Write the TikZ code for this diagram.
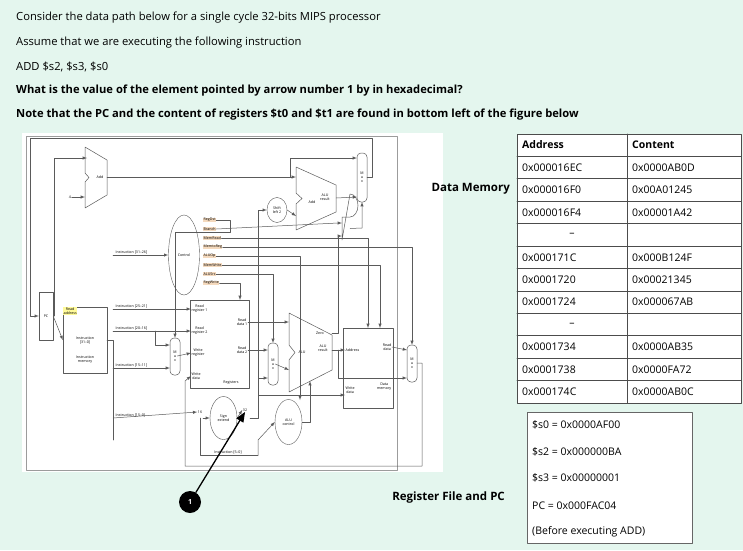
\documentclass[tikz,border=0pt]{standalone}
\usepackage{fontspec}
\setmainfont{Open Sans}
\usetikzlibrary{arrows,positioning,shapes.geometric}
\definecolor{mint}{RGB}{228,246,238}
\definecolor{wire}{RGB}{90,90,90}
\definecolor{sig}{RGB}{240,200,160}
\tikzset{
  box/.style={draw=wire,fill=white,inner sep=0pt},
  oval/.style={draw=wire,ellipse,fill=white,inner sep=0pt,font=\fontsize{3.6}{4}\selectfont,align=center},
  tiny/.style={font=\fontsize{3.6}{4}\selectfont,inner sep=0.5pt,align=center},
  w/.style={draw=wire,line width=0.5pt},
  cell/.style={font=\fontsize{10.5}{12}\selectfont,anchor=west,inner sep=0pt},
  txt/.style={font=\fontsize{11.2}{13}\selectfont,anchor=west,inner sep=0pt}
}
\begin{document}
\begin{tikzpicture}[x=1pt,y=-1pt,line cap=round,line join=round,>=latex]
\useasboundingbox (0,0) rectangle (743,550);
\fill[mint] (0,0) rectangle (743,550);
% question text
\node[txt] (q1) at (16,18) {Consider the data path below for a single cycle 32-bits MIPS processor};
\node[txt] (q2) at (16,43) {Assume that we are executing the following instruction};
\node[txt] (q3) at (16,67) {ADD \$s2, \$s3, \$s0};
\node[txt,font=\fontsize{11.2}{13}\bfseries] (q4) at (16,91) {What is the value of the element pointed by arrow number 1 by in hexadecimal?};
\node[txt,font=\fontsize{11.2}{13}\bfseries] (q5) at (16,115) {Note that the PC and the content of registers \$t0 and \$t1 are found in bottom left of the figure below};
% datapath panel
\fill[white] (22,133) rectangle (443,472);
\draw[wire!60,line width=0.4pt] (26,136) rectangle (397,470);
% blocks
\node[box,minimum width=14pt,minimum height=48pt] (pc) at (46,316) {};
\node[tiny] at (pc) {PC};
\node[box,minimum width=44pt,minimum height=66pt] (imem) at (85,340) {};
\node[tiny,anchor=north west,fill=yellow!40] at (imem.north west) {Read\\address};
\node[tiny] at (85,340) {Instruction\\{[31--0]}};
\node[tiny] at (85,360) {Instruction\\memory};
\draw[w,fill=white] (85,147) -- (107,160) -- (107,195) -- (85,208) -- (85,182) -- (89,177.5) -- (85,173) -- cycle;
\node[tiny] (add1) at (100,177) {Add};
\node[tiny] (four) at (70,197) {4};
\draw[w,fill=white] (296,167) -- (336,185) -- (336,212) -- (296,230) -- (296,204) -- (302,198.5) -- (296,193) -- cycle;
\node[tiny] (add2) at (312,202) {Add};
\node[tiny] at (325,197) {ALU\\result};
\node[oval,minimum width=20pt,minimum height=25pt] (shl) at (277,210) {Shift\\left 2};
\draw[w,fill=white,rounded corners=4pt] (357,153) rectangle (367,202);
\node[tiny] (mux1) at (362,177) {M\\u\\x};
\draw[w,fill=white] (342,217) -- (350,217) arc (90:-90:8 and 11.5) -- (342,240) -- cycle;
\coordinate (andg) at (350,228.5);
\node[oval,minimum width=31pt,minimum height=80pt] (ctrl) at (184,255) {Control};
\foreach \s [count=\i] in {RegDst,Branch,MemRead,MemtoReg,ALUOp,MemWrite,ALUSrc,RegWrite}
  \node[tiny,anchor=west,fill=sig!70] (s\i) at (203,220+9*\i-9) {\s};
\node[box,minimum width=59pt,minimum height=88pt] (regs) at (219.5,344) {};
\node[tiny,anchor=west] (rr1) at (191,309) {Read\\register 1};
\node[tiny,anchor=west] (rr2) at (191,331) {Read\\register 2};
\node[tiny,anchor=west] (wr) at (191,353) {Write\\register};
\node[tiny,anchor=west] (wd) at (191,376) {Write\\data};
\node[tiny,anchor=east] (rd1) at (248,322) {Read\\data 1};
\node[tiny,anchor=east] (rd2) at (248,350) {Read\\data 2};
\node[tiny] at (231,383) {Registers};
\draw[w,fill=white,rounded corners=4pt] (170,338) rectangle (180,375);
\node[tiny] (mux2) at (175,356) {M\\u\\x};
\node[oval,minimum width=27pt,minimum height=43pt] (sext) at (223.5,418) {Sign\\extend};
\node[tiny] (n16) at (200,412) {16};
\node[tiny] (n32) at (245,410) {32};
\node[oval,minimum width=27pt,minimum height=45pt] (aluc) at (288.5,422) {ALU\\control};
\draw[w,fill=white,rounded corners=4pt] (268,343) rectangle (278,385);
\node[tiny] (mux3) at (273,364) {M\\u\\x};
\draw[w,fill=white] (289,313) -- (332,335) -- (332,370) -- (289,392) -- (289,360) -- (295,352.5) -- (289,345) -- cycle;
\node[tiny] (alu) at (302,352) {ALU};
\node[tiny] at (323,348) {ALU\\result};
\node[tiny] at (320,333) {Zero};
\node[box,minimum width=50pt,minimum height=80pt] (dmem) at (368,368) {};
\node[tiny,anchor=west] (addr) at (345,350) {Address};
\node[tiny,anchor=east] (rdm) at (392,347) {Read\\data};
\node[tiny,anchor=west] (wdm) at (345,390) {Write\\data};
\node[tiny,anchor=east] at (392,387) {Data\\memory};
\draw[w,fill=white,rounded corners=4pt] (407,345) rectangle (417,382);
\node[tiny] (mux4) at (412,363) {M\\u\\x};
% wires
\draw[w,->] (pc.east) -- (imem.west);
\draw[w,->] (54,316) |- (87,158);
\draw[w,->] (four) -- (85,197);
\draw[w,->] (107,177) -- (290,177) |- (357,158);
\draw[w,->] (290,177) -- (296,177);
\draw[w,->] (shl.east) -- (296,216);
\draw[w,->] (336,198) -- (357,197);
\draw[w,->] (367,177) -- (372,177) -- (372,138) -- (30,138) -- (30,316) -- (pc.west);
\draw[w] (107,340) -- (113,340) -- (113,440);
\draw[w,->] (113,255) -- (ctrl.west);
\node[tiny,anchor=south west] at (115,255) {Instruction [31--26]};
\draw[w,->] (113,309) -- (rr1.west);
\node[tiny,anchor=south west] at (115,309) {Instruction [25--21]};
\draw[w,->] (113,331) -- (155,331) -- (rr2.west);
\node[tiny,anchor=south west] at (115,331) {Instruction [20--16]};
\draw[w,->] (155,331) |- (170,345);
\draw[w,->] (113,368) -- (170,368);
\node[tiny,anchor=south west] at (115,368) {Instruction [15--11]};
\draw[w,->] (mux2.east) -- (wr.west);
\draw[w,->] (113,418) -- (n16.west);
\node[tiny,anchor=south west] at (115,418) {Instruction [15--0]};
\draw[w,->] (203,418) -- (sext.west);
\draw[w,->] (sext.east) -- (n32.west);
\draw[w] (200,418) -- (200,455) -- (258,455);
\node[tiny,anchor=south] at (228,455) {Instruction [5--0]};
\draw[w,->] (258,455) -- (258,440) -- (aluc.west);
\draw[w,->] (250,418) -- (258,418) -- (258,378) -- (268,378);
\draw[w,->] (258,378) |- (shl.west);
\draw[w,->] (rd1.east) -- (289,322);
\draw[w,->] (rd2.east) -- (268,350);
\draw[w,->] (258,350) |- (345,395);
\draw[w,->] (mux3.east) -- (289,370);
\draw[w,->] (aluc.east) -- (310,422) -- (310,381);
\draw[w,->] (332,350) -- (addr.west);
\draw[w,->] (338,350) |- (407,378);
\draw[w,->] (rdm.east) -- (407,350);
\draw[w,->] (417,363) -- (422,363) -- (422,466) -- (185,466) -- (185,381) -- (wd.west);
\draw[w,->] (332,333) -- (338,333) -- (338,236) -- (342,236);
\draw[w,->] (andg) -- (362,228) -- (362,202);
\draw[w,->] (s2.east) -- (338,223) -- (342,223);
\draw[w,->] (s3.east) -- (368,238) -- (368,328);
\draw[w,->] (s4.east) -- (412,247) -- (412,345);
\draw[w,->] (s5.east) -- (300,256) -- (300,400);
\draw[w,->] (s6.east) -- (380,265) -- (380,328);
\draw[w,->] (s7.east) -- (273,274) -- (273,343);
\draw[w,->] (s8.east) -- (240,283) -- (240,300);
\draw[w,->] (s1.east) -- (230,220) -- (230,232) -- (175,232) -- (175,338);
% pointer 1
\node[circle,fill=black,minimum size=22pt,inner sep=0pt,text=white,font=\fontsize{7}{7}\bfseries] (one) at (190,502) {1};
\draw[line width=1.3pt,-triangle 45] (one) -- (n32.south);
% data memory table
\node[font=\fontsize{11.5}{13}\bfseries,anchor=east,inner sep=0pt] (dmlab) at (510,189) {Data Memory};
\fill[white] (517,134) rectangle (741,403);
\draw[black!70,line width=0.6pt] (517,134) rectangle (741,403);
\draw[black!70,line width=0.6pt] (627,134) -- (627,403);
\foreach \yy in {156,178,201,223,246,268,291,313,335,358,380}
  \draw[black!70,line width=0.6pt] (517,\yy) -- (741,\yy);
\node[cell,font=\fontsize{10.5}{12}\bfseries] (ha) at (522,145) {Address};
\node[cell,font=\fontsize{10.5}{12}\bfseries] (hc) at (632,145) {Content};
\foreach \a/\c [count=\i] in {0x000016EC/0x0000AB0D,0x000016F0/0x00A01245,0x000016F4/0x00001A42,{}/{},0x000171C/0x000B124F,0x0001720/0x00021345,0x0001724/0x000067AB,{}/{},0x0001734/0x0000AB35,0x0001738/0x0000FA72,0x000174C/0x0000AB0C}{
  \node[cell] (a\i) at (522,145+22.45*\i) {\a};
  \node[cell] (c\i) at (632,145+22.45*\i) {\c};
}
\node[cell,anchor=center] at (572,235) {--};
\node[cell,anchor=center] at (572,325) {--};
% register file box
\node[font=\fontsize{11.5}{13}\bfseries,anchor=east,inner sep=0pt] (rflab) at (505,497) {Register File and PC};
\fill[white] (527,412) rectangle (692,543);
\draw[black!60,line width=0.6pt] (527,412) rectangle (692,543);
\node[cell] (r1) at (532,425) {\$s0 = 0x0000AF00};
\node[cell] (r2) at (532,452) {\$s2 = 0x000000BA};
\node[cell] (r3) at (532,478) {\$s3 = 0x00000001};
\node[cell] (r4) at (532,506) {PC = 0x000FAC04};
\node[cell] (r5) at (532,532) {(Before executing ADD)};
\end{tikzpicture}
\end{document}
